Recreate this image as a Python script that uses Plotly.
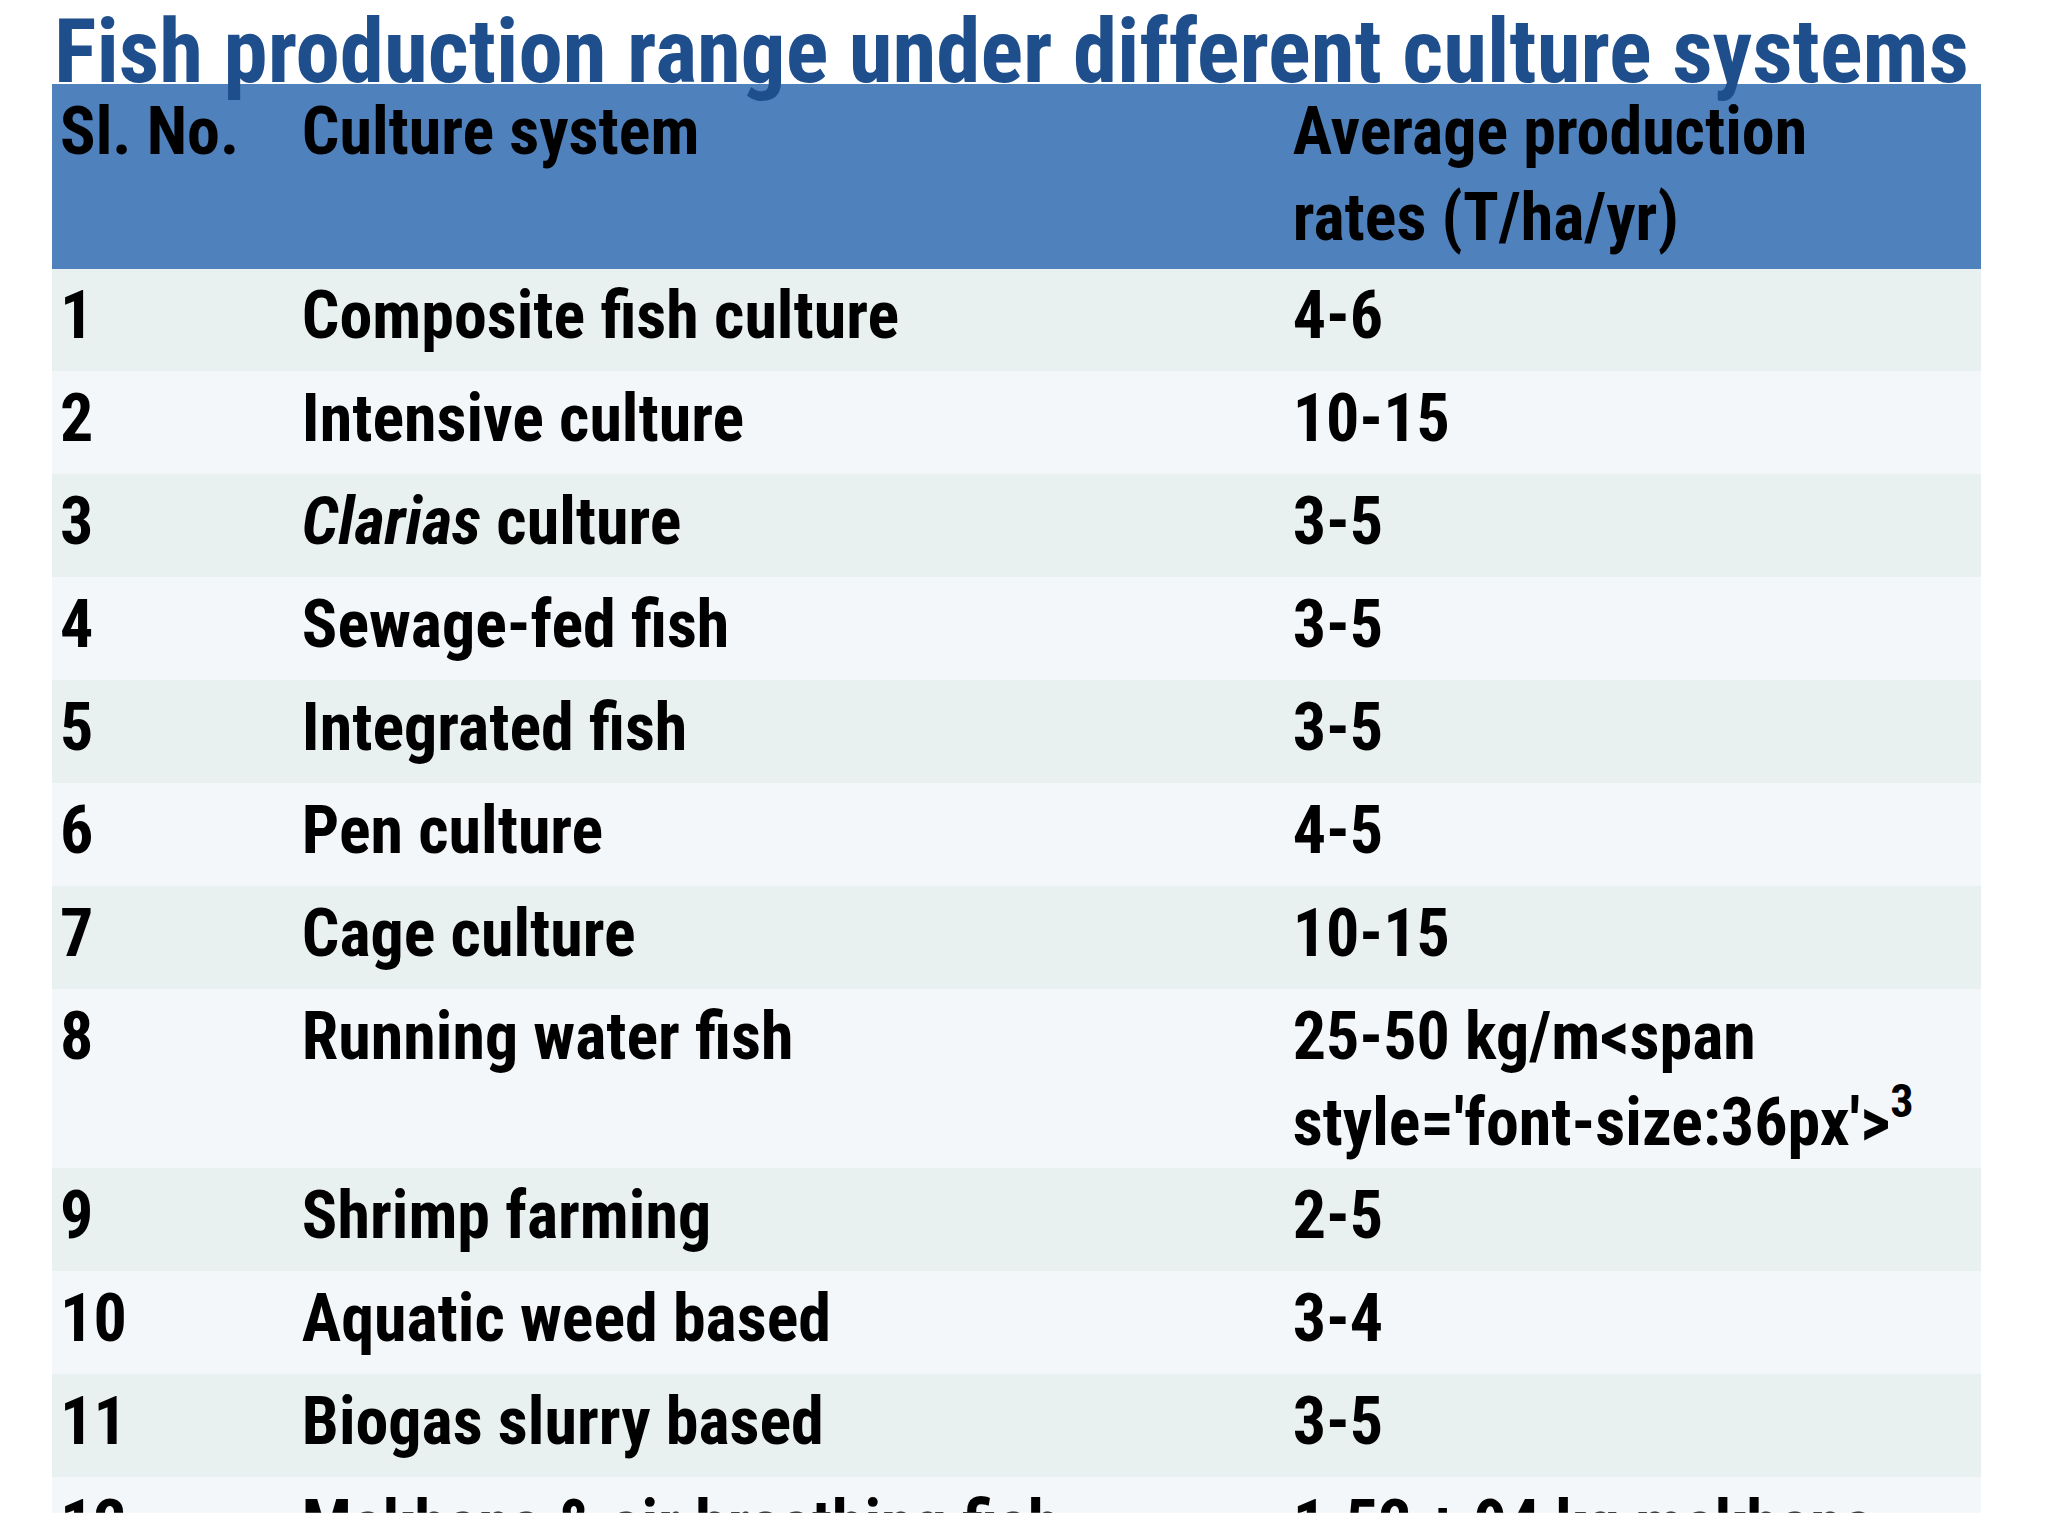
import plotly.graph_objects as go

sl_no = [str(i) for i in range(1, 13)]
systems = ["Composite fish culture", "Intensive culture", "<i>Clarias</i> culture",
           "Sewage-fed fish", "Integrated fish", "Pen culture", "Cage culture",
           "Running water fish", "Shrimp farming", "Aquatic weed based",
           "Biogas slurry based", "Makhana & air breathing fish"]
rates = ["4-6", "10-15", "3-5", "3-5", "3-5", "4-5", "10-15",
         "25-50 kg/m<span style='font-size:36px'><sup>3</sup></span>", "2-5", "3-4", "3-5",
         "1.52 + 94 kg makhana"]
headers = ["Sl. No.", "Culture system", "Average production<br>rates (T/ha/yr)"]

FONT = "Liberation Sans Narrow, Arial Narrow, Roboto Condensed, Liberation Sans, sans-serif"
row_colors = ["#E8F0F0" if i % 2 == 0 else "#F3F7F9" for i in range(len(sl_no))]

fig = go.Figure(go.Table(
    domain=dict(x=[0.0215, 0.963], y=[0.02, 0.95]),
    columnwidth=[185, 758, 532],
    header=dict(values=["<b>%s</b>" % h for h in headers], fill_color="#4F81BD",
                line_color="#4F81BD", align="left", height=184,
                font=dict(family=FONT, size=66, color="black")),
    cells=dict(values=[["<b>%s</b>" % v for v in col] for col in (sl_no, systems, rates)],
               fill_color=[row_colors] * 3, line_color=[row_colors] * 3,
               align="left", height=103,
               font=dict(family=FONT, size=66, color="black")),
))
fig.update_layout(
    width=2048, height=1536, margin=dict(l=0, r=0, t=0, b=0),
    paper_bgcolor="white",
    title=dict(text="<b>Fish production range under different culture systems</b>",
               x=0.49, xanchor="center", y=0.972, yanchor="middle",
               font=dict(family=FONT, size=89, color="#1F4E8C")),
)
fig.write_html("out.html")
